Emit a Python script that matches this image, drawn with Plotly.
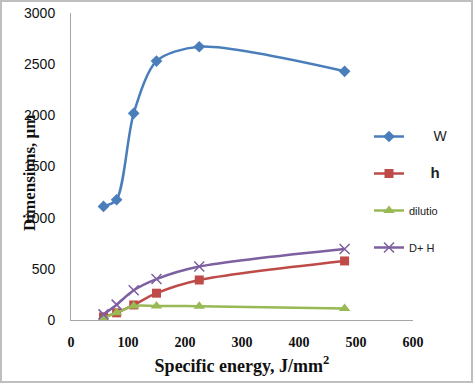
import plotly.graph_objects as go

energy = [57, 80, 110, 150, 225, 480]
width_w = [1110, 1175, 2020, 2530, 2670, 2430]
height_h = [30, 70, 147, 262, 391, 577]
dilution = [20, 70, 137, 137, 135, 112]
d_plus_h = [55, 150, 290, 400, 522, 694]

x_ticks = [0, 100, 200, 300, 400, 500, 600]
y_ticks = [0, 500, 1000, 1500, 2000, 2500, 3000]

series = [
    ("\u00a0\u00a0\u00a0\u00a0\u00a0\u00a0\u00a0\u00a0<span style='font-size:14px'>W</span>", width_w, "#4A7EBB", "diamond", 9, 0),
    ("\u00a0\u00a0\u00a0\u00a0\u00a0\u00a0\u00a0<b><span style='font-size:15px'>h</span></b>", height_h, "#BE4B48", "square", 9, 0),
    ("dilutio", dilution, "#98B954", "triangle-up", 10, 0),
    ("D+ H", d_plus_h, "#7D60A0", "x-thin-open", 10, 1.5),
]

fig = go.Figure()
for i, (name, vals, col, sym, sz, lw) in enumerate(series):
    fig.add_trace(go.Scatter(
        x=energy, y=vals, name=name, mode="lines+markers",
        line=dict(color=col, width=2.5, shape="spline", smoothing=0.8),
        marker=dict(color=col, symbol=sym, size=sz, line=dict(color=col, width=lw)),
        legendgroup=str(i),
    ))

L, R, T, B = 71, 61, 13, 63
W, H = 474, 383
pw, ph = W - L - R, H - T - B

fig.update_layout(
    width=W, height=H, autosize=False,
    margin=dict(l=L, r=R, t=T, b=B),
    plot_bgcolor="white", paper_bgcolor="white",
    showlegend=True,
    legend=dict(x=(369 - L) / pw, y=(H - B - 122) / ph, xanchor="left", yanchor="top",
                font=dict(family="Liberation Sans, Arial", size=11, color="#222"),
                tracegroupgap=18, itemwidth=30, bgcolor="rgba(0,0,0,0)"),
    xaxis=dict(range=[0, 600], tickvals=x_ticks, showgrid=False, zeroline=False,
               showline=True, linecolor="#A6A6A6", linewidth=1, ticks="", automargin=False,
               tickfont=dict(family="Liberation Serif, Times New Roman", size=14, color="#111", weight="bold"),
               ticklabelstandoff=9,
               title=dict(text="<b>Specific energy, J/mm<sup>2</sup></b>",
                          font=dict(family="Liberation Serif, Times New Roman", size=18, color="#111"),
                          standoff=10)),
    yaxis=dict(range=[0, 3000], tickvals=y_ticks, showgrid=False, zeroline=False,
               showline=True, linecolor="#A6A6A6", linewidth=1, ticks="", automargin=False,
               tickfont=dict(family="Liberation Sans, Arial", size=14, color="#111"),
               ticklabelstandoff=12),
)

fig.add_annotation(text="<b>Dimensions, μm</b>", xref="paper", yref="paper",
                   x=(29 - L) / pw, y=(H - B - 173) / ph, textangle=-90, showarrow=False,
                   font=dict(family="Liberation Serif, Times New Roman", size=17, color="#111"),
                   xanchor="center", yanchor="middle")

# outer frame
fig.add_shape(type="rect", xref="paper", yref="paper",
              x0=(1 - L) / pw, x1=(W - 2 - L) / pw, y0=(1 - B) / ph, y1=(H - 1 - B) / ph,
              line=dict(color="#BFBFBF", width=2))

fig.write_html("out.html", config={"displayModeBar": False},
               post_script="document.body.style.margin='0';document.body.style.padding='0';")
